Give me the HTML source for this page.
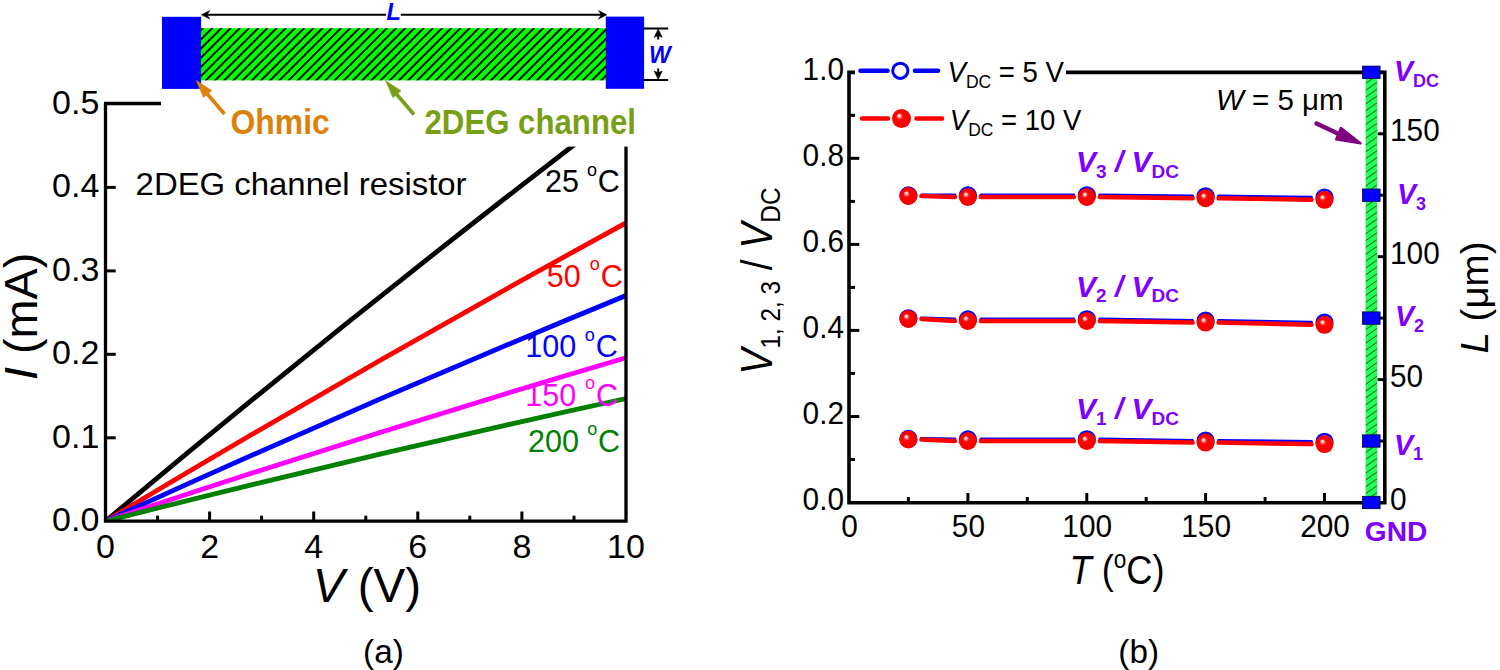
<!DOCTYPE html><html><head><meta charset="utf-8"><style>html,body{margin:0;padding:0;background:#fff;width:1500px;height:670px;overflow:hidden}svg{display:block}text{font-family:"Liberation Sans",sans-serif}</style></head><body>
<svg width="1500" height="670" viewBox="0 0 1500 670">
<defs>
<pattern id="hatchA" patternUnits="userSpaceOnUse" width="6.5" height="20" patternTransform="rotate(45)"><rect width="6.5" height="20" fill="#00ff00"/><rect x="0" y="0" width="1.9" height="20" fill="#000"/></pattern>
<pattern id="hatchB" patternUnits="userSpaceOnUse" width="5.6" height="20" patternTransform="rotate(55)"><rect width="5.6" height="20" fill="#22ff55"/><rect x="0" y="0" width="0.7" height="20" fill="#153f15"/></pattern>
<radialGradient id="ball" cx="0.5" cy="0.5" r="0.5" fx="0.36" fy="0.33"><stop offset="0" stop-color="#fff"/><stop offset="0.12" stop-color="#ffd0d0"/><stop offset="0.32" stop-color="#ff1010"/><stop offset="0.5" stop-color="#ff0000"/><stop offset="1" stop-color="#f40000"/></radialGradient>
<clipPath id="clipA"><rect x="105.5" y="60" width="520.5" height="461.2"/></clipPath>
</defs>
<path d="M105.5,521.2 Q365.75,302.97 626,105.19" fill="none" stroke="#000000" stroke-width="4.8" clip-path="url(#clipA)"/>
<path d="M105.5,521.2 Q365.75,364.91 626,222.94" fill="none" stroke="#ff0000" stroke-width="4.8" clip-path="url(#clipA)"/>
<path d="M105.5,521.2 Q365.75,402.14 626,295.56" fill="none" stroke="#0000ff" stroke-width="4.8" clip-path="url(#clipA)"/>
<path d="M105.5,521.2 Q365.75,434.38 626,357.85" fill="none" stroke="#ff00ff" stroke-width="4.8" clip-path="url(#clipA)"/>
<path d="M105.5,521.2 Q365.75,455.02 626,398.61" fill="none" stroke="#008000" stroke-width="4.8" clip-path="url(#clipA)"/>
<path d="M105.5,103.5 V521.2 H626 V146" fill="none" stroke="#000" stroke-width="3.3"/>
<line x1="104" y1="103.5" x2="161" y2="103.5" stroke="#000" stroke-width="3.3"/>
<line x1="105.5" y1="437.8" x2="115.7" y2="437.8" stroke="#000" stroke-width="3"/>
<line x1="105.5" y1="354.3" x2="115.7" y2="354.3" stroke="#000" stroke-width="3"/>
<line x1="105.5" y1="270.9" x2="115.7" y2="270.9" stroke="#000" stroke-width="3"/>
<line x1="105.5" y1="187.4" x2="115.7" y2="187.4" stroke="#000" stroke-width="3"/>
<line x1="157.6" y1="521" x2="157.6" y2="515.7" stroke="#000" stroke-width="3"/>
<line x1="209.6" y1="521" x2="209.6" y2="511.5" stroke="#000" stroke-width="3"/>
<line x1="261.6" y1="521" x2="261.6" y2="515.7" stroke="#000" stroke-width="3"/>
<line x1="313.7" y1="521" x2="313.7" y2="511.5" stroke="#000" stroke-width="3"/>
<line x1="365.8" y1="521" x2="365.8" y2="515.7" stroke="#000" stroke-width="3"/>
<line x1="417.8" y1="521" x2="417.8" y2="511.5" stroke="#000" stroke-width="3"/>
<line x1="469.8" y1="521" x2="469.8" y2="515.7" stroke="#000" stroke-width="3"/>
<line x1="521.9" y1="521" x2="521.9" y2="511.5" stroke="#000" stroke-width="3"/>
<line x1="574.0" y1="521" x2="574.0" y2="515.7" stroke="#000" stroke-width="3"/>
<text x="99.3" y="530.9" font-size="34" text-anchor="end">0.0</text>
<text x="99.3" y="447.5" font-size="34" text-anchor="end">0.1</text>
<text x="99.3" y="364.0" font-size="34" text-anchor="end">0.2</text>
<text x="99.3" y="280.6" font-size="34" text-anchor="end">0.3</text>
<text x="99.3" y="197.1" font-size="34" text-anchor="end">0.4</text>
<text x="99.3" y="113.7" font-size="34" text-anchor="end">0.5</text>
<text x="105.5" y="557.8" font-size="34" text-anchor="middle">0</text>
<text x="209.6" y="557.8" font-size="34" text-anchor="middle">2</text>
<text x="313.7" y="557.8" font-size="34" text-anchor="middle">4</text>
<text x="417.8" y="557.8" font-size="34" text-anchor="middle">6</text>
<text x="521.9" y="557.8" font-size="34" text-anchor="middle">8</text>
<text x="626.0" y="557.8" font-size="34" text-anchor="middle">10</text>
<text x="578.9" y="192.4" font-size="30.5" fill="#000" text-anchor="end">25</text>
<text x="587.0" y="176.1" font-size="18" fill="#000">o</text>
<text x="619.9" y="192.4" font-size="30.5" fill="#000" text-anchor="end">C</text>
<text x="580.6999999999999" y="286.7" font-size="30.5" fill="#ff0000" text-anchor="end">50</text>
<text x="589.8" y="270.4" font-size="18" fill="#ff0000">o</text>
<text x="622.6999999999999" y="286.7" font-size="30.5" fill="#ff0000" text-anchor="end">C</text>
<text x="576.1999999999999" y="357.4" font-size="30.5" fill="#0000ff" text-anchor="end">100</text>
<text x="584.8" y="341.1" font-size="18" fill="#0000ff">o</text>
<text x="617.6999999999999" y="357.4" font-size="30.5" fill="#0000ff" text-anchor="end">C</text>
<text x="576.1999999999999" y="405.5" font-size="30.5" fill="#ff00ff" text-anchor="end">150</text>
<text x="585.1" y="389.2" font-size="18" fill="#ff00ff">o</text>
<text x="618.0" y="405.5" font-size="30.5" fill="#ff00ff" text-anchor="end">C</text>
<text x="578.9" y="451.5" font-size="30.5" fill="#008000" text-anchor="end">200</text>
<text x="587.2" y="435.2" font-size="18" fill="#008000">o</text>
<text x="620.1" y="451.5" font-size="30.5" fill="#008000" text-anchor="end">C</text>
<text x="135.6" y="194.7" font-size="31.5" textLength="331" lengthAdjust="spacingAndGlyphs">2DEG channel resistor</text>
<text transform="translate(36.5,380) rotate(-90)" font-size="46.8"><tspan font-style="italic">I</tspan> (mA)</text>
<text x="312.8" y="601.9" font-size="47.5"><tspan font-style="italic">V</tspan> (V)</text>
<text x="363.1" y="662.8" font-size="33.3">(a)</text>
<rect x="161" y="0" width="520" height="146.6" fill="#fff"/>
<rect x="201" y="28.2" width="405" height="52.2" fill="url(#hatchA)"/>
<rect x="162" y="16.8" width="39.1" height="72.1" fill="#0000ff"/>
<rect x="605.8" y="16.6" width="38.3" height="72.2" fill="#0000ff"/>
<path d="M206,14.8 H386 M400.8,14.8 H602" stroke="#000" stroke-width="1.9" fill="none"/>
<path d="M201.5,14.8 L209.8,10.6 L206.9,14.8 L209.8,19.1 Z M606.8,14.8 L598.5,10.6 L601.4,14.8 L598.5,19.1 Z" fill="#000" stroke="#000" stroke-width="0.6" stroke-linejoin="round"/>
<text x="386.5" y="20" font-size="23.5" font-weight="bold" font-style="italic" fill="#0000ff">L</text>
<path d="M644,28.4 H668.2 M644,80.1 H668.2 M658.2,35 V39.5 M658.2,68.5 V73" stroke="#000" stroke-width="2" fill="none"/>
<path d="M658.2,29 L654.2,37.3 L658.2,35.6 L662.2,37.3 Z M658.2,79.4 L654.2,71.1 L658.2,72.8 L662.2,71.1 Z" fill="#000" stroke="#000" stroke-width="0.6" stroke-linejoin="round"/>
<text x="649" y="62.6" font-size="23" font-weight="bold" font-style="italic" fill="#0000ff">W</text>
<line x1="224.5" y1="114" x2="206" y2="92.5" stroke="#dc820a" stroke-width="3.7"/>
<path d="M196.1,80.3 L211.7,90.5 L207.9,93.9 L203.5,97.5 Z" fill="#dc820a" stroke="#dc820a" stroke-width="0.5" stroke-linejoin="round"/>
<text x="230.5" y="133.9" font-size="34.5" font-weight="bold" fill="#dc820a" textLength="99.3" lengthAdjust="spacingAndGlyphs">Ohmic</text>
<line x1="414" y1="114.5" x2="395.5" y2="93" stroke="#77a016" stroke-width="3.7"/>
<path d="M385.5,80.5 L401.1,90.7 L397.3,94.1 L392.9,97.7 Z" fill="#77a016" stroke="#77a016" stroke-width="0.5" stroke-linejoin="round"/>
<text x="424.5" y="133.8" font-size="35" font-weight="bold" fill="#77a016" textLength="211.5" lengthAdjust="spacingAndGlyphs">2DEG channel</text>
<path d="M849,72.4 V502.8 H1384.8 V72.4 Z" fill="none" stroke="#000" stroke-width="3.6"/>
<line x1="849" y1="459.5" x2="855" y2="459.5" stroke="#000" stroke-width="3"/>
<line x1="849" y1="416.5" x2="859.3" y2="416.5" stroke="#000" stroke-width="3"/>
<line x1="849" y1="373.4" x2="855" y2="373.4" stroke="#000" stroke-width="3"/>
<line x1="849" y1="330.4" x2="859.3" y2="330.4" stroke="#000" stroke-width="3"/>
<line x1="849" y1="287.4" x2="855" y2="287.4" stroke="#000" stroke-width="3"/>
<line x1="849" y1="244.4" x2="859.3" y2="244.4" stroke="#000" stroke-width="3"/>
<line x1="849" y1="201.4" x2="855" y2="201.4" stroke="#000" stroke-width="3"/>
<line x1="849" y1="158.3" x2="859.3" y2="158.3" stroke="#000" stroke-width="3"/>
<line x1="849" y1="115.3" x2="855" y2="115.3" stroke="#000" stroke-width="3"/>
<line x1="908.4" y1="502.5" x2="908.4" y2="497" stroke="#000" stroke-width="3"/>
<line x1="967.9" y1="502.5" x2="967.9" y2="493" stroke="#000" stroke-width="3"/>
<line x1="1027.3" y1="502.5" x2="1027.3" y2="497" stroke="#000" stroke-width="3"/>
<line x1="1086.8" y1="502.5" x2="1086.8" y2="493" stroke="#000" stroke-width="3"/>
<line x1="1146.2" y1="502.5" x2="1146.2" y2="497" stroke="#000" stroke-width="3"/>
<line x1="1205.6" y1="502.5" x2="1205.6" y2="493" stroke="#000" stroke-width="3"/>
<line x1="1265.1" y1="502.5" x2="1265.1" y2="497" stroke="#000" stroke-width="3"/>
<line x1="1324.5" y1="502.5" x2="1324.5" y2="493" stroke="#000" stroke-width="3"/>
<line x1="1384.7" y1="441.0" x2="1380" y2="441.0" stroke="#000" stroke-width="3"/>
<line x1="1384.7" y1="379.6" x2="1377.6" y2="379.6" stroke="#000" stroke-width="3"/>
<line x1="1384.7" y1="318.1" x2="1380" y2="318.1" stroke="#000" stroke-width="3"/>
<line x1="1384.7" y1="256.7" x2="1377.6" y2="256.7" stroke="#000" stroke-width="3"/>
<line x1="1384.7" y1="195.2" x2="1380" y2="195.2" stroke="#000" stroke-width="3"/>
<line x1="1384.7" y1="133.8" x2="1377.6" y2="133.8" stroke="#000" stroke-width="3"/>
<line x1="1384.7" y1="72.3" x2="1380" y2="72.3" stroke="#000" stroke-width="3"/>
<text x="844" y="510.4" font-size="31.5" text-anchor="end" textLength="41.4" lengthAdjust="spacingAndGlyphs">0.0</text>
<text x="844" y="424.4" font-size="31.5" text-anchor="end" textLength="41.4" lengthAdjust="spacingAndGlyphs">0.2</text>
<text x="844" y="338.3" font-size="31.5" text-anchor="end" textLength="41.4" lengthAdjust="spacingAndGlyphs">0.4</text>
<text x="844" y="252.3" font-size="31.5" text-anchor="end" textLength="41.4" lengthAdjust="spacingAndGlyphs">0.6</text>
<text x="844" y="166.2" font-size="31.5" text-anchor="end" textLength="41.4" lengthAdjust="spacingAndGlyphs">0.8</text>
<text x="844" y="80.2" font-size="31.5" text-anchor="end" textLength="41.4" lengthAdjust="spacingAndGlyphs">1.0</text>
<text x="849.5" y="536.8" font-size="31.5" text-anchor="middle" textLength="16.6" lengthAdjust="spacingAndGlyphs">0</text>
<text x="968.4" y="536.8" font-size="31.5" text-anchor="middle" textLength="33.1" lengthAdjust="spacingAndGlyphs">50</text>
<text x="1087.2" y="536.8" font-size="31.5" text-anchor="middle" textLength="49.7" lengthAdjust="spacingAndGlyphs">100</text>
<text x="1206.1" y="536.8" font-size="31.5" text-anchor="middle" textLength="49.7" lengthAdjust="spacingAndGlyphs">150</text>
<text x="1325.0" y="536.8" font-size="31.5" text-anchor="middle" textLength="49.7" lengthAdjust="spacingAndGlyphs">200</text>
<text x="1390" y="510.1" font-size="31.5" textLength="16.6" lengthAdjust="spacingAndGlyphs">0</text>
<text x="1390" y="387.2" font-size="31.5" textLength="33.1" lengthAdjust="spacingAndGlyphs">50</text>
<text x="1390" y="264.3" font-size="31.5" textLength="49.7" lengthAdjust="spacingAndGlyphs">100</text>
<text x="1390" y="141.4" font-size="31.5" textLength="49.7" lengthAdjust="spacingAndGlyphs">150</text>
<line x1="921.4" y1="195.1" x2="954.9" y2="195.1" stroke="#0000ff" stroke-width="3" stroke-linecap="round"/>
<line x1="980.9" y1="195.1" x2="1073.8" y2="195.0" stroke="#0000ff" stroke-width="3" stroke-linecap="round"/>
<line x1="1099.8" y1="195.0" x2="1192.6" y2="196.0" stroke="#0000ff" stroke-width="3" stroke-linecap="round"/>
<line x1="1218.6" y1="196.0" x2="1311.5" y2="197.2" stroke="#0000ff" stroke-width="3" stroke-linecap="round"/>
<circle cx="908.4" cy="195.4" r="7.8" fill="#fff" stroke="#0000ff" stroke-width="2.6"/>
<circle cx="967.9" cy="195.4" r="7.8" fill="#fff" stroke="#0000ff" stroke-width="2.6"/>
<circle cx="1086.8" cy="195.3" r="7.8" fill="#fff" stroke="#0000ff" stroke-width="2.6"/>
<circle cx="1205.6" cy="196.3" r="7.8" fill="#fff" stroke="#0000ff" stroke-width="2.6"/>
<circle cx="1324.5" cy="197.5" r="7.8" fill="#fff" stroke="#0000ff" stroke-width="2.6"/>
<line x1="921.4" y1="196.0" x2="954.9" y2="197.0" stroke="#ff0000" stroke-width="4.5" stroke-linecap="round"/>
<line x1="980.9" y1="197.0" x2="1073.8" y2="197.0" stroke="#ff0000" stroke-width="4.5" stroke-linecap="round"/>
<line x1="1099.8" y1="197.0" x2="1192.6" y2="198.2" stroke="#ff0000" stroke-width="4.5" stroke-linecap="round"/>
<line x1="1218.6" y1="198.2" x2="1311.5" y2="199.8" stroke="#ff0000" stroke-width="4.5" stroke-linecap="round"/>
<circle cx="908.4" cy="196.0" r="9" fill="url(#ball)"/>
<circle cx="967.9" cy="197.0" r="9" fill="url(#ball)"/>
<circle cx="1086.8" cy="197.0" r="9" fill="url(#ball)"/>
<circle cx="1205.6" cy="198.2" r="9" fill="url(#ball)"/>
<circle cx="1324.5" cy="199.8" r="9" fill="url(#ball)"/>
<line x1="921.4" y1="318.0" x2="954.9" y2="319.1" stroke="#0000ff" stroke-width="3" stroke-linecap="round"/>
<line x1="980.9" y1="319.1" x2="1073.8" y2="319.0" stroke="#0000ff" stroke-width="3" stroke-linecap="round"/>
<line x1="1099.8" y1="319.0" x2="1192.6" y2="320.4" stroke="#0000ff" stroke-width="3" stroke-linecap="round"/>
<line x1="1218.6" y1="320.4" x2="1311.5" y2="322.2" stroke="#0000ff" stroke-width="3" stroke-linecap="round"/>
<circle cx="908.4" cy="318.3" r="7.8" fill="#fff" stroke="#0000ff" stroke-width="2.6"/>
<circle cx="967.9" cy="319.4" r="7.8" fill="#fff" stroke="#0000ff" stroke-width="2.6"/>
<circle cx="1086.8" cy="319.3" r="7.8" fill="#fff" stroke="#0000ff" stroke-width="2.6"/>
<circle cx="1205.6" cy="320.7" r="7.8" fill="#fff" stroke="#0000ff" stroke-width="2.6"/>
<circle cx="1324.5" cy="322.5" r="7.8" fill="#fff" stroke="#0000ff" stroke-width="2.6"/>
<line x1="921.4" y1="318.9" x2="954.9" y2="321.0" stroke="#ff0000" stroke-width="4.5" stroke-linecap="round"/>
<line x1="980.9" y1="321.0" x2="1073.8" y2="321.0" stroke="#ff0000" stroke-width="4.5" stroke-linecap="round"/>
<line x1="1099.8" y1="321.0" x2="1192.6" y2="322.6" stroke="#ff0000" stroke-width="4.5" stroke-linecap="round"/>
<line x1="1218.6" y1="322.6" x2="1311.5" y2="324.8" stroke="#ff0000" stroke-width="4.5" stroke-linecap="round"/>
<circle cx="908.4" cy="318.9" r="9" fill="url(#ball)"/>
<circle cx="967.9" cy="321.0" r="9" fill="url(#ball)"/>
<circle cx="1086.8" cy="321.0" r="9" fill="url(#ball)"/>
<circle cx="1205.6" cy="322.6" r="9" fill="url(#ball)"/>
<circle cx="1324.5" cy="324.8" r="9" fill="url(#ball)"/>
<line x1="921.4" y1="438.6" x2="954.9" y2="439.1" stroke="#0000ff" stroke-width="3" stroke-linecap="round"/>
<line x1="980.9" y1="439.1" x2="1073.8" y2="439.0" stroke="#0000ff" stroke-width="3" stroke-linecap="round"/>
<line x1="1099.8" y1="439.0" x2="1192.6" y2="440.4" stroke="#0000ff" stroke-width="3" stroke-linecap="round"/>
<line x1="1218.6" y1="440.4" x2="1311.5" y2="441.5" stroke="#0000ff" stroke-width="3" stroke-linecap="round"/>
<circle cx="908.4" cy="438.9" r="7.8" fill="#fff" stroke="#0000ff" stroke-width="2.6"/>
<circle cx="967.9" cy="439.4" r="7.8" fill="#fff" stroke="#0000ff" stroke-width="2.6"/>
<circle cx="1086.8" cy="439.3" r="7.8" fill="#fff" stroke="#0000ff" stroke-width="2.6"/>
<circle cx="1205.6" cy="440.7" r="7.8" fill="#fff" stroke="#0000ff" stroke-width="2.6"/>
<circle cx="1324.5" cy="441.8" r="7.8" fill="#fff" stroke="#0000ff" stroke-width="2.6"/>
<line x1="921.4" y1="439.5" x2="954.9" y2="441.0" stroke="#ff0000" stroke-width="4.5" stroke-linecap="round"/>
<line x1="980.9" y1="441.0" x2="1073.8" y2="441.0" stroke="#ff0000" stroke-width="4.5" stroke-linecap="round"/>
<line x1="1099.8" y1="441.0" x2="1192.6" y2="442.6" stroke="#ff0000" stroke-width="4.5" stroke-linecap="round"/>
<line x1="1218.6" y1="442.6" x2="1311.5" y2="444.1" stroke="#ff0000" stroke-width="4.5" stroke-linecap="round"/>
<circle cx="908.4" cy="439.5" r="9" fill="url(#ball)"/>
<circle cx="967.9" cy="441.0" r="9" fill="url(#ball)"/>
<circle cx="1086.8" cy="441.0" r="9" fill="url(#ball)"/>
<circle cx="1205.6" cy="442.6" r="9" fill="url(#ball)"/>
<circle cx="1324.5" cy="444.1" r="9" fill="url(#ball)"/>
<rect x="855" y="56" width="211" height="85" fill="#fff"/>
<path d="M860.5,70.8 H887.5 M915,70.8 H938" stroke="#0000ff" stroke-width="4.6" stroke-linecap="round" fill="none"/>
<circle cx="900.3" cy="70.8" r="7.6" fill="#fff" stroke="#0000ff" stroke-width="3"/>
<path d="M862,118.5 H888 M916.5,118.5 H942" stroke="#ff0000" stroke-width="4.6" stroke-linecap="round" fill="none"/>
<circle cx="901.5" cy="118.5" r="9.5" fill="url(#ball)"/>
<text x="947.5" y="81.5" font-size="30" textLength="116.5" lengthAdjust="spacingAndGlyphs"><tspan font-style="italic">V</tspan><tspan font-size="19" dy="6.3">DC</tspan><tspan dy="-6.3"> = 5 V</tspan></text>
<text x="949.8" y="129.7" font-size="30" textLength="131.5" lengthAdjust="spacingAndGlyphs"><tspan font-style="italic">V</tspan><tspan font-size="19" dy="6">DC</tspan><tspan dy="-6"> = 10 V</tspan></text>
<rect x="1365.6" y="72.3" width="11.6" height="430.7" fill="url(#hatchB)"/>
<rect x="1362.5" y="496.3" width="17.6" height="12.4" fill="#0000ff" stroke="#000040" stroke-width="0.8"/>
<rect x="1362.5" y="434.8" width="17.6" height="12.4" fill="#0000ff" stroke="#000040" stroke-width="0.8"/>
<rect x="1362.5" y="311.9" width="17.6" height="12.4" fill="#0000ff" stroke="#000040" stroke-width="0.8"/>
<rect x="1362.5" y="189.0" width="17.6" height="12.4" fill="#0000ff" stroke="#000040" stroke-width="0.8"/>
<rect x="1362.5" y="66.1" width="17.6" height="12.4" fill="#0000ff" stroke="#000040" stroke-width="0.8"/>
<text x="1394" y="81.2" font-size="28.6" font-weight="bold" font-style="italic" fill="#8000ff">V<tspan font-size="18" font-style="normal" dy="5.5">DC</tspan></text>
<text x="1397" y="204" font-size="28.6" font-weight="bold" font-style="italic" fill="#8000ff">V<tspan font-size="18" font-style="normal" dy="5.5">3</tspan></text>
<text x="1395" y="326" font-size="28.6" font-weight="bold" font-style="italic" fill="#8000ff">V<tspan font-size="18" font-style="normal" dy="5.5">2</tspan></text>
<text x="1394" y="454.5" font-size="28.6" font-weight="bold" font-style="italic" fill="#8000ff">V<tspan font-size="18" font-style="normal" dy="5.5">1</tspan></text>
<text x="1364.8" y="540.8" font-size="27.5" font-weight="bold" fill="#8000ff" textLength="62.5" lengthAdjust="spacingAndGlyphs">GND</text>
<text x="1076" y="172.3" font-size="30" font-weight="bold" font-style="italic" fill="#8000ff">V<tspan font-size="19" font-style="normal" dy="5.3">3</tspan><tspan dy="-5.3"> / V</tspan><tspan font-size="19" font-style="normal" dy="5.3">DC</tspan></text>
<text x="1076" y="296.8" font-size="30" font-weight="bold" font-style="italic" fill="#8000ff">V<tspan font-size="19" font-style="normal" dy="5.3">2</tspan><tspan dy="-5.3"> / V</tspan><tspan font-size="19" font-style="normal" dy="5.3">DC</tspan></text>
<text x="1076" y="419.3" font-size="30" font-weight="bold" font-style="italic" fill="#8000ff">V<tspan font-size="19" font-style="normal" dy="5.3">1</tspan><tspan dy="-5.3"> / V</tspan><tspan font-size="19" font-style="normal" dy="5.3">DC</tspan></text>
<text x="1216" y="109.8" font-size="29.5"><tspan font-style="italic">W</tspan> = 5 μm</text>
<line x1="1316.5" y1="123.6" x2="1342" y2="135.5" stroke="#800080" stroke-width="4.4" stroke-linecap="round"/>
<path d="M1360.7,143.4 L1341,127.8 L1336,139.5 Z" fill="#800080" stroke="#800080" stroke-width="2.2" stroke-linejoin="round"/>
<text transform="translate(772.2,374.5) rotate(-90)" font-size="44.7" textLength="187" lengthAdjust="spacingAndGlyphs"><tspan font-style="italic">V</tspan><tspan font-size="28" dy="8">1, 2, 3</tspan><tspan dy="-8"> / </tspan><tspan font-style="italic">V</tspan><tspan font-size="28" dy="8">DC</tspan></text>
<text x="1069.5" y="583.9" font-size="40" textLength="95" lengthAdjust="spacingAndGlyphs"><tspan font-style="italic">T</tspan> (<tspan font-size="25" dy="-16">o</tspan><tspan dy="16">C)</tspan></text>
<text transform="translate(1487.6,353.5) rotate(-90)" font-size="38.5"><tspan font-style="italic">L</tspan> (μm)</text>
<text x="1118.3" y="662.8" font-size="33.3">(b)</text>
</svg></body></html>
